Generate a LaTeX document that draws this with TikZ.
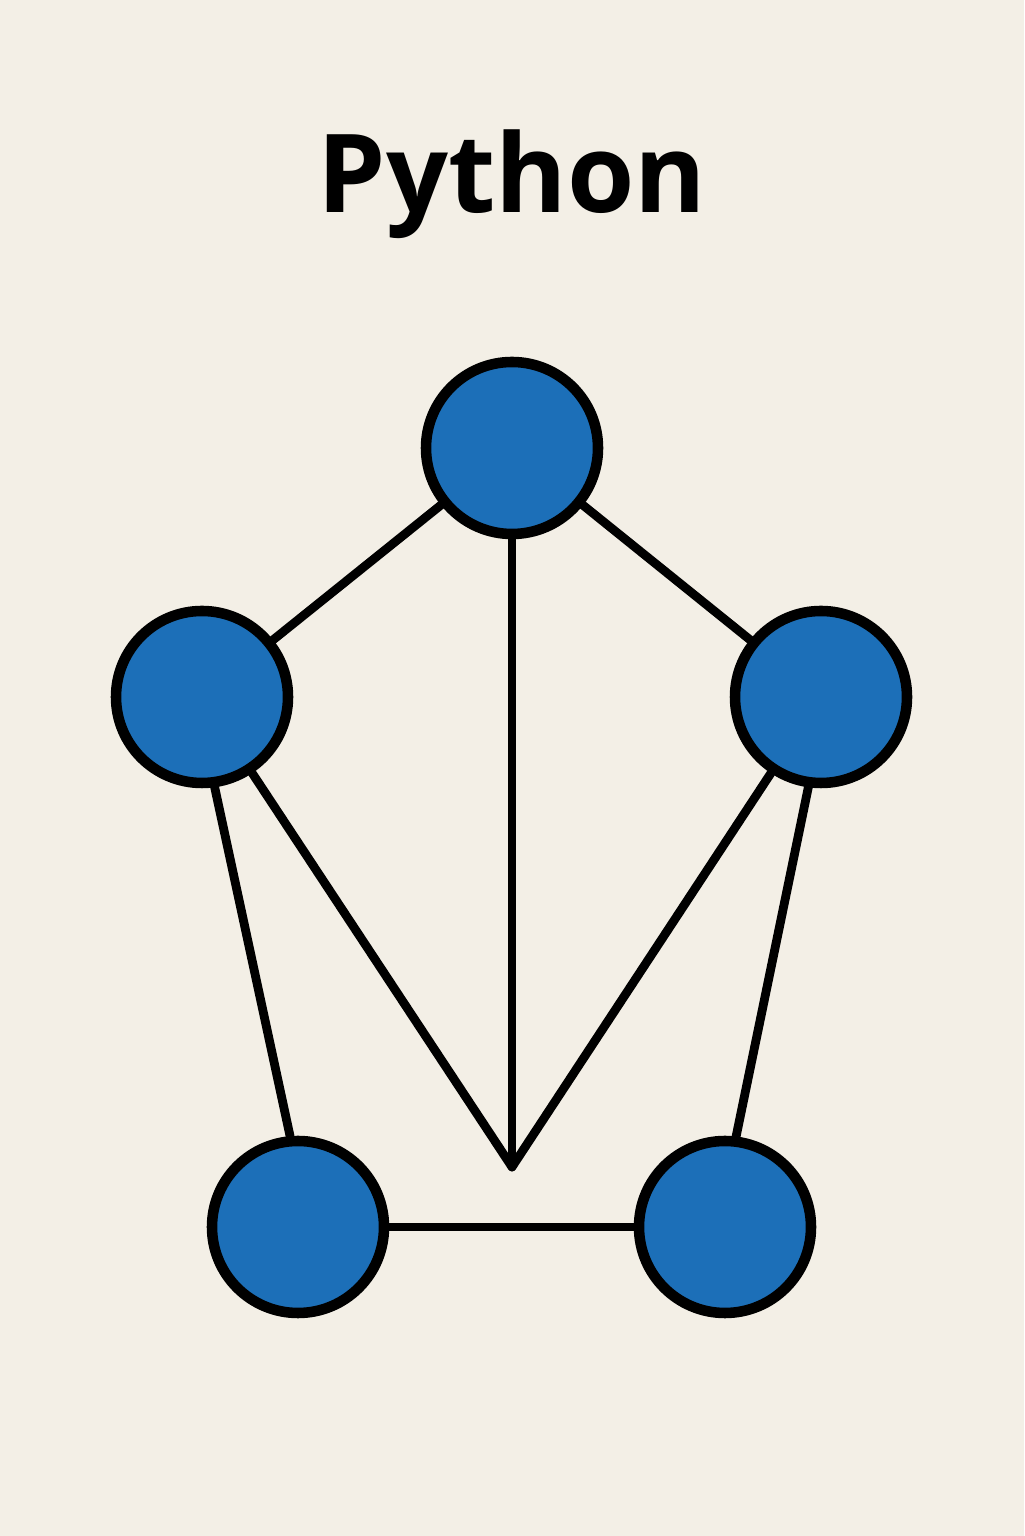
\documentclass[tikz,border=0pt]{standalone}
\usepackage{fontspec}
\setmainfont{Open Sans}
\usetikzlibrary{calc}
\definecolor{paper}{HTML}{F3EFE6}
\definecolor{pyblue}{HTML}{1C6FB8}
\tikzset{
    vertex/.style={circle, draw=black, fill=pyblue, line width=3pt, minimum size=1.72cm, inner sep=0pt},
    edge/.style={draw=black, line width=2.5pt, line cap=round, line join=round}
}

\begin{document}
\begin{tikzpicture}
    \fill [paper] (0,0) rectangle (10.24,15.36);
    \useasboundingbox (0,0) rectangle (10.24,15.36);
    \node [anchor=base, font=\fontsize{31}{38}\selectfont\bfseries] (title) at (5.12,13.23) {Python};
    \node [vertex] (top) at (5.12,10.88) {};
    \node [vertex] (left) at (2.02,8.39) {};
    \node [vertex] (right) at (8.21,8.39) {};
    \node [vertex] (botleft) at (2.98,3.09) {};
    \node [vertex] (botright) at (7.25,3.09) {};
    \coordinate (apex) at (5.12,3.69);
    \draw [edge] (top) -- (left);
    \draw [edge] (top) -- (right);
    \draw [edge] (left.-82) -- (botleft.95);
    \draw [edge] (right.-98) -- (botright.83);
    \draw [edge] (botleft) -- (botright);
    \draw [edge] (left) -- (apex) -- (right);
    \draw [edge] (top) -- (apex);
\end{tikzpicture}
\end{document}
